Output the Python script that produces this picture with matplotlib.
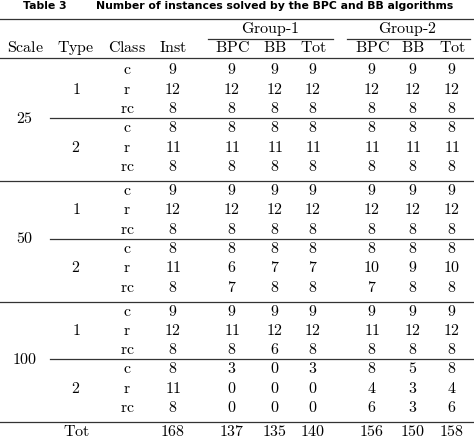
import matplotlib
matplotlib.use("Agg")
import matplotlib.pyplot as plt

plt.rcParams['mathtext.fontset'] = 'cm'

scales = ["25", "50", "100"]
types = ["1", "2"]
classes = ["c", "r", "rc"]
inst = [9, 12, 8, 8, 11, 8] * 3
g1_bpc = [9, 12, 8, 8, 11, 8, 9, 12, 8, 8, 6, 7, 9, 11, 8, 3, 0, 0]
g1_bb = [9, 12, 8, 8, 11, 8, 9, 12, 8, 8, 7, 8, 9, 12, 6, 0, 0, 0]
g1_tot = [9, 12, 8, 8, 11, 8, 9, 12, 8, 8, 7, 8, 9, 12, 8, 3, 0, 0]
g2_bpc = [9, 12, 8, 8, 11, 8, 9, 12, 8, 8, 10, 7, 9, 11, 8, 8, 4, 6]
g2_bb = [9, 12, 8, 8, 11, 8, 9, 12, 8, 8, 9, 8, 9, 12, 8, 5, 3, 3]
g2_tot = [9, 12, 8, 8, 11, 8, 9, 12, 8, 8, 10, 8, 9, 12, 8, 8, 4, 6]
totals = [168, 137, 135, 140, 156, 150, 158]

W, H = 474, 442
fig = plt.figure(figsize=(W/100, H/100), dpi=100)
ax = fig.add_axes([0, 0, 1, 1])
ax.set_xlim(0, W); ax.set_ylim(H, 0); ax.axis('off')

fs = 11.5
def t(x, y, s):
    ax.text(x, y, r'$\mathrm{' + s + '}$', fontsize=fs, ha='center', va='center')

ax.text(45, 6, "Table 3", fontsize=7.8, fontweight='bold', ha='center', va='center', family='DejaVu Sans')
ax.text(96, 6, "Number of instances solved by the BPC and BB algorithms", fontsize=7.8,
        fontweight='bold', ha='left', va='center', family='DejaVu Sans')

lw = 0.9
ax.plot([0, W], [19, 19], color='#333', lw=lw)
t(270, 29, r"Group\text{-}1")
t(407, 29, r"Group\text{-}2")
ax.plot([208, 333], [39, 39], color='#333', lw=lw)
ax.plot([347, 470], [39, 39], color='#333', lw=lw)
cols = [25, 76, 127, 173, 232, 275, 313, 372, 413, 452]
for x, s in zip(cols, ["Scale", "Type", "Class", "Inst", "BPC", "BB", "Tot", "BPC", "BB", "Tot"]):
    t(x, 48, s)
ax.plot([0, W], [58, 58], color='#333', lw=lw)

starts = [70, 190.5, 311]
sp = 19.3
for b, sc in enumerate(scales):
    y0 = starts[b]
    t(cols[0], y0 + 2.5 * sp, sc)
    for ti, ty in enumerate(types):
        t(cols[1], y0 + (3 * ti + 1) * sp, ty)
        for ci, cl in enumerate(classes):
            k = b * 6 + ti * 3 + ci
            y = y0 + (3 * ti + ci) * sp
            t(cols[2], y, cl)
            vals = [inst[k], g1_bpc[k], g1_bb[k], g1_tot[k], g2_bpc[k], g2_bb[k], g2_tot[k]]
            for x, v in zip(cols[3:], vals):
                t(x, y, str(v))
    ax.plot([50, W], [y0 + 2.5 * sp, y0 + 2.5 * sp], color='#333', lw=lw)
    ax.plot([0, W], [y0 + 5 * sp + 14.5, y0 + 5 * sp + 14.5], color='#333', lw=lw)

t(76, 432, "Tot")
for x, v in zip(cols[3:], totals):
    t(x, 432, str(v))

fig.savefig("out.png", dpi=100)
